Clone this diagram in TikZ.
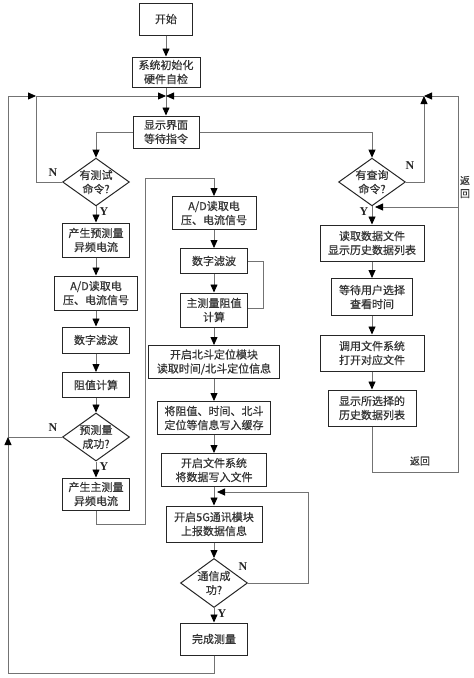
\documentclass[tikz,border=0pt]{standalone}
\usepackage{fontspec}
\setmainfont{Noto Sans CJK SC}[FakeBold=0.5]
\newfontfamily\latfont{Liberation Serif}
\usetikzlibrary{arrows.meta, shapes.geometric, calc}

\begin{document}
\begin{tikzpicture}[x=1pt, y=-1pt,
    box/.style={draw=black!85, line width=1pt, align=center, inner sep=0pt, text=black!80, font=\fontsize{11}{14}\selectfont},
    dec/.style={box, diamond, aspect=1.4, minimum width=66pt, minimum height=47pt},
    wire/.style={draw=black!55, line width=0.8pt},
    arr/.style={wire, -{Triangle[length=8pt, width=7pt, color=black]}},
    yn/.style={font=\latfont\bfseries\fontsize{12}{12}\selectfont, text=black!85},
    back/.style={font=\fontsize{10}{13}\selectfont, text=black!80, align=center}
]
    \useasboundingbox (0,0) rectangle (474,678);

    % Blocks
    \node[box, minimum width=53pt, minimum height=32pt] (start) at (166,19) {开始};
    \node[box, minimum width=68pt, minimum height=30pt] (init)  at (166,72) {系统初始化\\硬件自检};
    \node[box, minimum width=66pt, minimum height=32pt] (disp)  at (166,132) {显示界面\\等待指令};
    \node[dec] (test)  at (96,182)  {有测试\\命令?};
    \node[dec] (query) at (372,182) {有查询\\命令?};

    % Pre-measurement column
    \node[box, minimum width=67pt, minimum height=34pt] (pre)   at (96,240) {产生预测量\\异频电流};
    \node[box, minimum width=83pt, minimum height=34pt] (adA)   at (96,293) {A/D读取电\\压、电流信号};
    \node[box, minimum width=67pt, minimum height=26pt] (fltA)  at (96,340) {数字滤波};
    \node[box, minimum width=67pt, minimum height=25pt] (calcA) at (96,385) {阻值计算};
    \node[dec, minimum width=67pt, minimum height=48pt] (preok) at (96,437) {预测量\\成功?};
    \node[box, minimum width=67pt, minimum height=32pt] (main)  at (96,494) {产生主测量\\异频电流};

    % Main measurement column
    \node[box, minimum width=84pt, minimum height=33pt]  (adB)   at (214,213) {A/D读取电\\压、电流信号};
    \node[box, minimum width=67pt, minimum height=25pt]  (fltB)  at (214,261) {数字滤波};
    \node[box, minimum width=67pt, minimum height=34pt]  (calcB) at (214,310) {主测量阻值\\计算};
    \node[box, minimum width=131pt, minimum height=33pt] (bd)    at (214,362) {开启北斗定位模块\\读取时间/北斗定位信息};
    \node[box, minimum width=113pt, minimum height=33pt] (buf)   at (214,418) {将阻值、时间、北斗\\定位等信息写入缓存};
    \node[box, minimum width=105pt, minimum height=33pt] (file)  at (214,470) {开启文件系统\\将数据写入文件};
    \node[box, minimum width=96pt, minimum height=36pt]  (net)   at (214,524) {开启5G通讯模块\\上报数据信息};
    \node[dec, minimum width=67pt, minimum height=49pt]  (netok) at (214,583) {通信成\\功?};
    \node[box, minimum width=67pt, minimum height=32pt]  (done)  at (214,639) {完成测量};

    % Query column
    \node[box, minimum width=104pt, minimum height=36pt] (read) at (372,243) {读取数据文件\\显示历史数据列表};
    \node[box, minimum width=81pt, minimum height=37pt]  (wait) at (372,297) {等待用户选择\\查看时间};
    \node[box, minimum width=104pt, minimum height=36pt] (open) at (372,353) {调用文件系统\\打开对应文件};
    \node[box, minimum width=88pt, minimum height=36pt]  (show) at (372,408) {显示所选择的\\历史数据列表};

    % Junctions
    \coordinate (j)   at (166,96);
    \coordinate (jl)  at (36,96);
    \coordinate (jr)  at (424,96);
    \coordinate (rb)  at (458,207);
    \coordinate (qin) at (375,207);
    \coordinate (nin) at (217,492);

    % Main flow
    \draw[arr] (start) -- (init);
    \draw[wire] (init) -- (j);
    \draw[arr] (j) -- (disp);
    \draw[arr] (disp.west) -| (test.north);
    \draw[arr] (disp.east) -| (query.north);

    % Test branch
    \draw[arr] (test) -- (pre) node[yn, pos=0.3, right] {Y};
    \draw[arr] (pre) -- (adA);
    \draw[arr] (adA) -- (fltA);
    \draw[arr] (fltA) -- (calcA);
    \draw[arr] (calcA) -- (preok);
    \draw[arr] (preok) -- (main) node[yn, pos=0.3, right] {Y};
    \draw[arr] (main.south) -- ++(0,14) -| (145,178) -| (adB.north);
    \draw[arr] (adB) -- (fltB);
    \draw[arr] (fltB) -- (calcB);
    \draw[wire] (fltB.east) -- (263,261) |- (calcB.east |- 0,308);
    \draw[arr] (calcB) -- (bd);
    \draw[arr] (bd) -- (buf);
    \draw[arr] (buf) -- (file);
    \draw[arr] (file) -- (net);
    \draw[arr] (net) -- (netok);
    \draw[arr] (netok) -- (done) node[yn, pos=0.35, right] {Y};
    \draw[arr] (netok.east) -| (308,492) -- (nin);
    \node[yn] at (243,567) {N};

    % Loops back to display
    \draw[wire] (preok.west) -- (8,437);
    \node[yn] at (53,428) {N};
    \draw[arr] (done.south) -- (214,673) -| (8,437);
    \draw[arr] (8,437) |- (jl);
    \draw[wire] (test.west) -| (jl);
    \node[yn] at (53,173) {N};
    \draw[arr] (jl) -- (j);

    % Query branch
    \draw[arr] (query) -- (read) node[yn, pos=0.3, left] {Y};
    \draw[arr] (read) -- (wait);
    \draw[arr] (wait) -- (open);
    \draw[arr] (open) -- (show);
    \draw[wire] (show.south) |- (458,472) -- (458,96);
    \node[back] at (420,461) {返回};
    \node[back] at (465,187) {返\\回};
    \draw[arr] (458,96) -- (jr);
    \draw[arr] (rb) -- (qin);
    \draw[arr] (query.east) -| (jr);
    \node[yn] at (410,166) {N};
    \draw[arr] (jr) -- (j);
\end{tikzpicture}
\end{document}
